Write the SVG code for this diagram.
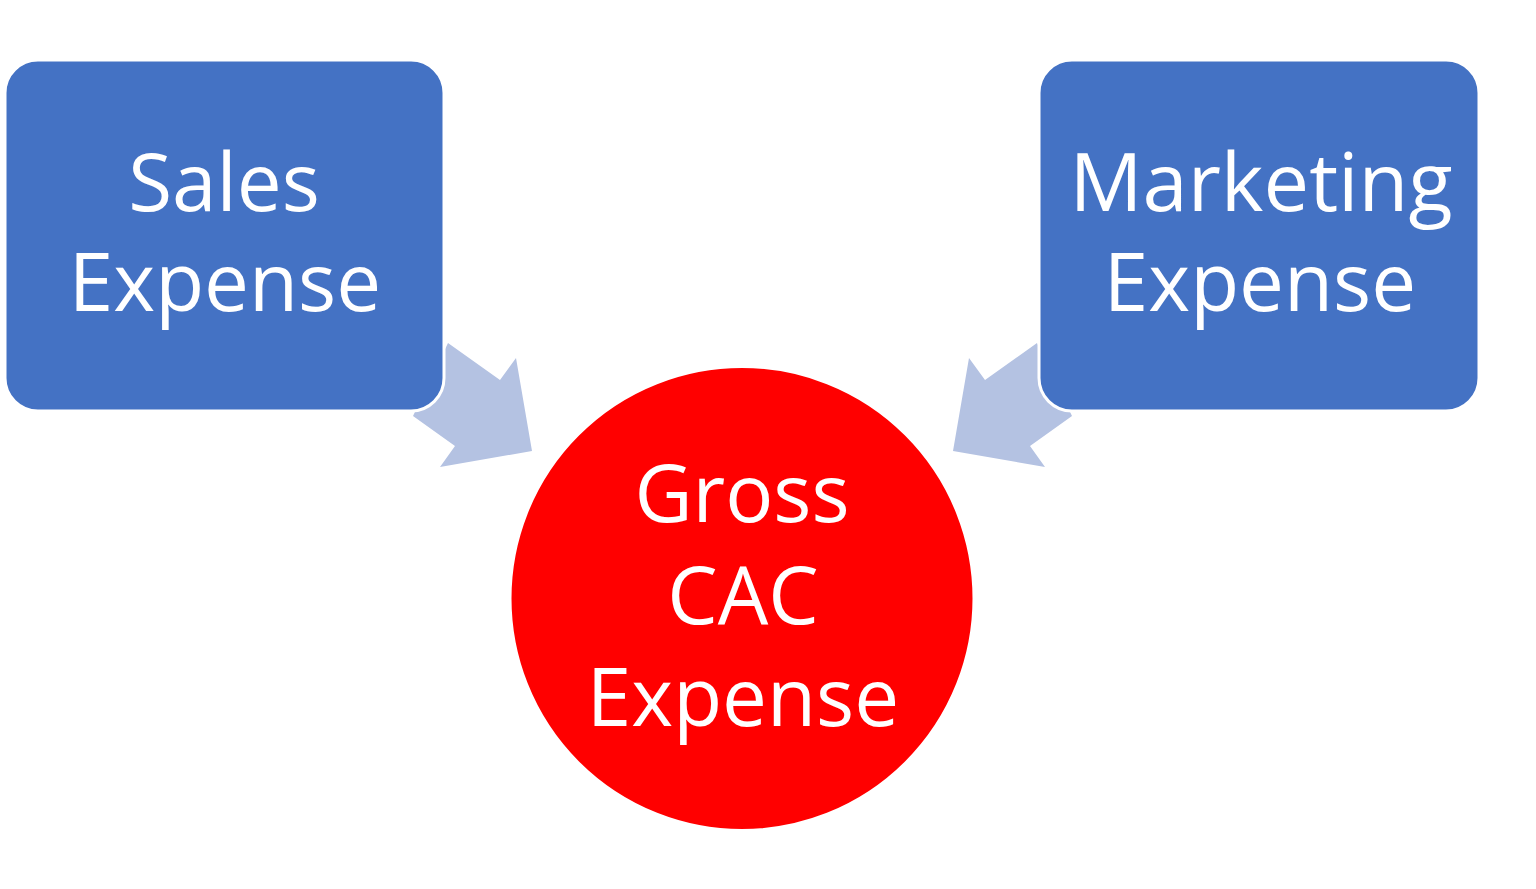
<svg xmlns="http://www.w3.org/2000/svg" width="1536" height="889" viewBox="0 0 1536 889">
  <style>
    .box { fill: #4472C4; stroke: #FFFFFF; stroke-width: 3; }
    .hub { fill: #FF0000; stroke: #FFFFFF; stroke-width: 3; }
    .arrow { fill: #B4C2E2; stroke: none; }
    .label { font-family: "Open Sans", "Noto Sans", "Liberation Sans", sans-serif; font-size: 80px; fill: #FFFFFF; text-anchor: middle; }
  </style>
  <rect width="1536" height="889" fill="#FFFFFF"/>
  <g id="connectors">
    <polygon class="arrow" points="448,343 500,380 516,358 532,451 440,467 455,446 413,416"/>
    <polygon class="arrow" points="1037,343 985,380 969,358 953,451 1045,467 1030,446 1072,416"/>
  </g>
  <g id="sales-expense">
    <rect class="box" x="5" y="60" width="439" height="351" rx="33" ry="33"/>
    <text class="label" x="224" y="211">Sales</text>
    <text class="label" x="225" y="311">Expense</text>
  </g>
  <g id="marketing-expense">
    <rect class="box" x="1039" y="60" width="440" height="351" rx="33" ry="33"/>
    <text class="label" x="1261" y="211" textLength="383" lengthAdjust="spacingAndGlyphs">Marketing</text>
    <text class="label" x="1260" y="311">Expense</text>
  </g>
  <g id="gross-cac-expense">
    <circle class="hub" cx="742" cy="598.5" r="232"/>
    <text class="label" x="742" y="522">Gross</text>
    <text class="label" x="743" y="624">CAC</text>
    <text class="label" x="743" y="726">Expense</text>
  </g>
</svg>
